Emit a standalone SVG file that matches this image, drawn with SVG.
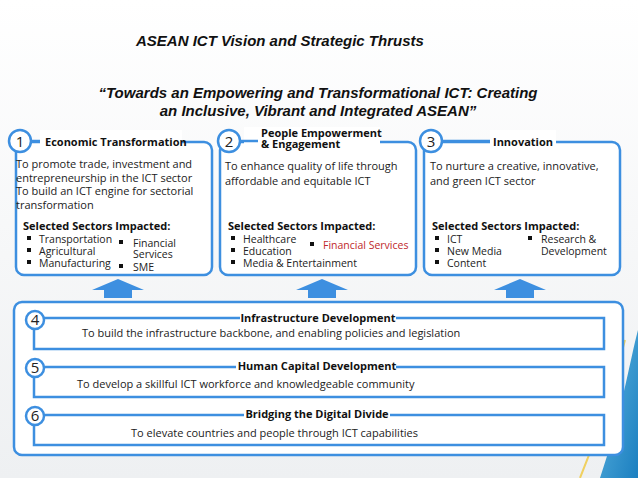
<svg xmlns="http://www.w3.org/2000/svg" width="638" height="478" viewBox="0 0 638 478">
<defs>
<linearGradient id="bg" x1="0" y1="0" x2="0" y2="1"><stop offset="0" stop-color="#ffffff"/><stop offset="1" stop-color="#eef0f2"/></linearGradient>
<linearGradient id="sw" x1="0" y1="0" x2="1" y2="1"><stop offset="0" stop-color="#5fb5e0"/><stop offset="1" stop-color="#1b7fc0"/></linearGradient>
</defs>
<style>
.box{fill:#fff;stroke:#3d8fe0;stroke-width:2.5}
.num{fill:#fff;stroke:#3d8fe0;stroke-width:2.5}
.t{font-family:"Open Sans","Noto Sans",sans-serif;font-size:11px;fill:#222}
.s{font-family:"Open Sans","Noto Sans",sans-serif;font-size:10.5px;fill:#222}
.b{font-family:"Open Sans","Noto Sans",sans-serif;font-size:11px;font-weight:bold;fill:#111}
.n{font-family:"Open Sans","Noto Sans",sans-serif;font-size:15px;fill:#222}
.h{font-family:"Liberation Sans",Arial,sans-serif;font-weight:bold;font-style:italic;fill:#111}
.arr{fill:#3d8fe0}
.bu{fill:#111}
</style>
<rect width="638" height="478" fill="url(#bg)"/>
<path d="M600 478 C620 420 630 360 638 330 L638 478 Z" fill="url(#sw)"/>
<path d="M580 478 C600 430 615 380 625 340" fill="none" stroke="#f0d060" stroke-width="2"/>
<text class="h" x="136" y="46" font-size="15">ASEAN ICT Vision and Strategic Thrusts</text>
<text class="h" x="318" y="98" font-size="15" text-anchor="middle">“Towards an Empowering and Transformational ICT: Creating</text>
<text class="h" x="318" y="116" font-size="15" text-anchor="middle">an Inclusive, Vibrant and Integrated ASEAN”</text>
<g id="connectors">
<path class="arr" d="M92 290 L118 279 L144 290 L132 290 L132 298 L104 298 L104 290 Z"/>
<path class="arr" d="M296 290 L322 279 L348 290 L336 290 L336 298 L308 298 L308 290 Z"/>
<path class="arr" d="M494 290 L520 279 L546 290 L534 290 L534 298 L506 298 L506 290 Z"/>
</g>
<g id="n1">
<rect class="box" x="16" y="142" width="196" height="133" rx="8"/>
<rect x="40" y="130" width="142" height="22" fill="#fff"/>
<circle class="num" cx="20" cy="141" r="11"/><text class="n" x="20" y="146.5" text-anchor="middle">1</text>
<line x1="31" y1="141" x2="40" y2="141" stroke="#3d8fe0" stroke-width="2.5"/>
<text class="b" x="45" y="146">Economic Transformation</text>
<text class="t" x="16" y="168">To promote trade, investment and</text>
<text class="t" x="16" y="182">entrepreneurship in the ICT sector</text>
<text class="t" x="16" y="195">To build an ICT engine for sectorial</text>
<text class="t" x="16" y="209">transformation</text>
<text class="b" x="23" y="230">Selected Sectors Impacted:</text>
<rect class="bu" x="27" y="236" width="4" height="4"/><text class="s" x="39" y="243">Transportation</text>
<rect class="bu" x="27" y="248" width="4" height="4"/><text class="s" x="39" y="255">Agricultural</text>
<rect class="bu" x="27" y="260" width="4" height="4"/><text class="s" x="39" y="267">Manufacturing</text>
<rect class="bu" x="119" y="240" width="4" height="4"/><text class="s" x="133" y="247">Financial</text>
<text class="s" x="133" y="258">Services</text>
<rect class="bu" x="119" y="264" width="4" height="4"/><text class="s" x="133" y="271">SME</text>
</g>
<g id="n2">
<rect class="box" x="220" y="142" width="196" height="133" rx="8"/>
<rect x="244" y="127" width="136" height="25" fill="#fff"/>
<circle class="num" cx="229" cy="141" r="11"/><text class="n" x="229" y="146.5" text-anchor="middle">2</text>
<line x1="240" y1="141" x2="258" y2="141" stroke="#3d8fe0" stroke-width="2.5"/>
<text class="b" x="261" y="137" font-size="10.5">People Empowerment</text>
<text class="b" x="261" y="148" font-size="10.5">&amp; Engagement</text>
<text class="t" x="225" y="170">To enhance quality of life through</text>
<text class="t" x="225" y="185">affordable and equitable ICT</text>
<text class="b" x="228" y="230">Selected Sectors Impacted:</text>
<rect class="bu" x="231" y="236" width="4" height="4"/><text class="s" x="243" y="243">Healthcare</text>
<rect class="bu" x="231" y="248" width="4" height="4"/><text class="s" x="243" y="255">Education</text>
<rect class="bu" x="231" y="260" width="4" height="4"/><text class="s" x="243" y="267">Media &amp; Entertainment</text>
<rect class="bu" x="310" y="242" width="4" height="4"/><text class="s" x="323" y="249" fill="#c0282c" style="fill:#c0282c">Financial Services</text>
</g>
<g id="n3">
<rect class="box" x="424" y="142" width="196" height="133" rx="8"/>
<rect x="490" y="130" width="66" height="22" fill="#fff"/>
<circle class="num" cx="431" cy="141" r="11"/><text class="n" x="431" y="146.5" text-anchor="middle">3</text>
<line x1="442" y1="141" x2="490" y2="141" stroke="#3d8fe0" stroke-width="2.5"/>
<text class="b" x="523" y="146" text-anchor="middle">Innovation</text>
<text class="t" x="430" y="170">To nurture a creative, innovative,</text>
<text class="t" x="430" y="185">and green ICT sector</text>
<text class="b" x="432" y="230">Selected Sectors Impacted:</text>
<rect class="bu" x="435" y="236" width="4" height="4"/><text class="s" x="447" y="243">ICT</text>
<rect class="bu" x="435" y="248" width="4" height="4"/><text class="s" x="447" y="255">New Media</text>
<rect class="bu" x="435" y="260" width="4" height="4"/><text class="s" x="447" y="267">Content</text>
<rect class="bu" x="528" y="236" width="4" height="4"/><text class="s" x="541" y="243">Research &amp;</text>
<text class="s" x="541" y="255">Development</text>
</g>
<g id="outer">
<rect class="box" x="14" y="302" width="609" height="153" rx="8"/>
</g>
<g id="n4">
<path d="M34 318 H604 V349 H34 Z" fill="#fff" stroke="#3d8fe0" stroke-width="2.5"/>
<rect x="240" y="310" width="156" height="16" fill="#fff"/>
<circle class="num" cx="35" cy="320" r="9"/><text class="n" x="35" y="325" text-anchor="middle" font-size="13">4</text>
<text class="b" x="318" y="322" text-anchor="middle">Infrastructure Development</text>
<text class="t" x="82" y="337">To build the infrastructure backbone, and enabling policies and legislation</text>
</g>
<g id="n5">
<path d="M34 367 H604 V397 H34 Z" fill="#fff" stroke="#3d8fe0" stroke-width="2.5"/>
<rect x="236" y="359" width="160" height="16" fill="#fff"/>
<circle class="num" cx="35" cy="368" r="9"/><text class="n" x="35" y="373" text-anchor="middle" font-size="13">5</text>
<text class="b" x="317" y="370" text-anchor="middle">Human Capital Development</text>
<text class="t" x="77" y="388">To develop a skillful ICT workforce and knowledgeable community</text>
</g>
<g id="n6">
<path d="M34 415 H604 V445 H34 Z" fill="#fff" stroke="#3d8fe0" stroke-width="2.5"/>
<rect x="244" y="407" width="146" height="16" fill="#fff"/>
<circle class="num" cx="35" cy="416" r="9"/><text class="n" x="35" y="421" text-anchor="middle" font-size="13">6</text>
<text class="b" x="317" y="418" text-anchor="middle">Bridging the Digital Divide</text>
<text class="t" x="131" y="437">To elevate countries and people through ICT capabilities</text>
</g>
</svg>
